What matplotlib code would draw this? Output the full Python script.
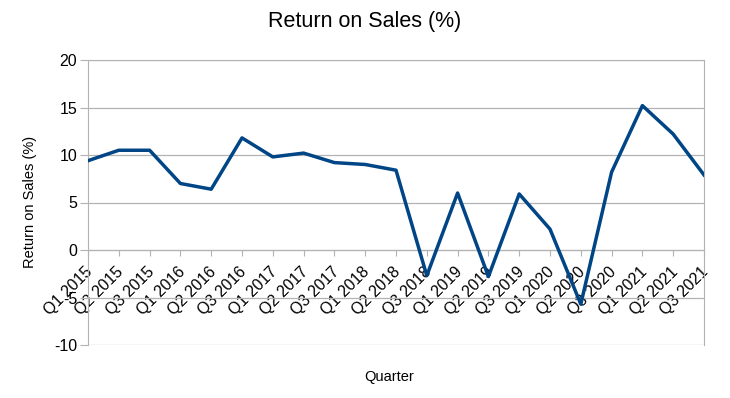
import matplotlib.pyplot as plt
from matplotlib.transforms import ScaledTranslation

plt.rcParams['font.family'] = ['Liberation Sans', 'DejaVu Sans']
plt.rcParams['axes.unicode_minus'] = False

# data
quarters = ['Q1 2015', 'Q2 2015', 'Q3 2015', 'Q1 2016', 'Q2 2016', 'Q3 2016',
            'Q1 2017', 'Q2 2017', 'Q3 2017', 'Q1 2018', 'Q2 2018', 'Q3 2018',
            'Q1 2019', 'Q2 2019', 'Q3 2019', 'Q1 2020', 'Q2 2020', 'Q3 2020',
            'Q1 2021', 'Q2 2021', 'Q3 2021']
ros = [9.4, 10.5, 10.5, 7.0, 6.4, 11.8,
       9.8, 10.2, 9.2, 9.0, 8.4, -2.7,
       6.0, -2.8, 5.9, 2.2, -5.7, 8.2,
       15.2, 12.2, 7.9]
y_ticks = [-10, -5, 0, 5, 10, 15, 20]

fig = plt.figure(figsize=(7.3, 3.98), dpi=100)
ax = fig.add_axes([88 / 730, 1 - 345 / 398, (704 - 88) / 730, (345 - 60) / 398])

# spine first, it resets the tick settings
ax.spines['bottom'].set_position(('data', 0))
ax.spines['bottom'].set_color('#b3b3b3')
for side in ['left', 'right', 'top']:
    ax.spines[side].set_color('#b3b3b3')

x = list(range(len(quarters)))
ax.plot(x, ros, color='#004586', linewidth=2.5, zorder=5)

ax.set_xlim(0, len(quarters) - 1)
ax.set_ylim(-10, 20)
ax.set_yticks(y_ticks)
ax.set_xticks(x)
ax.tick_params(axis='y', labelsize=11.5, length=5.8, color='#b3b3b3', pad=2)
ax.tick_params(axis='x', length=4.3, color='#b3b3b3', pad=6)
ax.set_xticklabels(quarters, rotation=45, ha='right', rotation_mode='anchor', fontsize=11.5)

# nudge the rotated labels a little to the left
shift = ScaledTranslation(-3 / 100, 0, fig.dpi_scale_trans)
for lbl in ax.get_xticklabels():
    lbl.set_transform(lbl.get_transform() + shift)

ax.grid(axis='y', color='#b3b3b3', linewidth=0.9)
ax.set_axisbelow(True)

fig.text(0.5, 1 - 22 / 398, 'Return on Sales (%)', ha='center', va='center', fontsize=15.5)
fig.text(30 / 730, 1 - 202 / 398, 'Return on Sales (%)', ha='center', va='center',
         rotation=90, fontsize=10.5)
fig.text(389 / 730, 1 - 377 / 398, 'Quarter', ha='center', va='center', fontsize=10.5)

fig.savefig('out.png', dpi=100)
